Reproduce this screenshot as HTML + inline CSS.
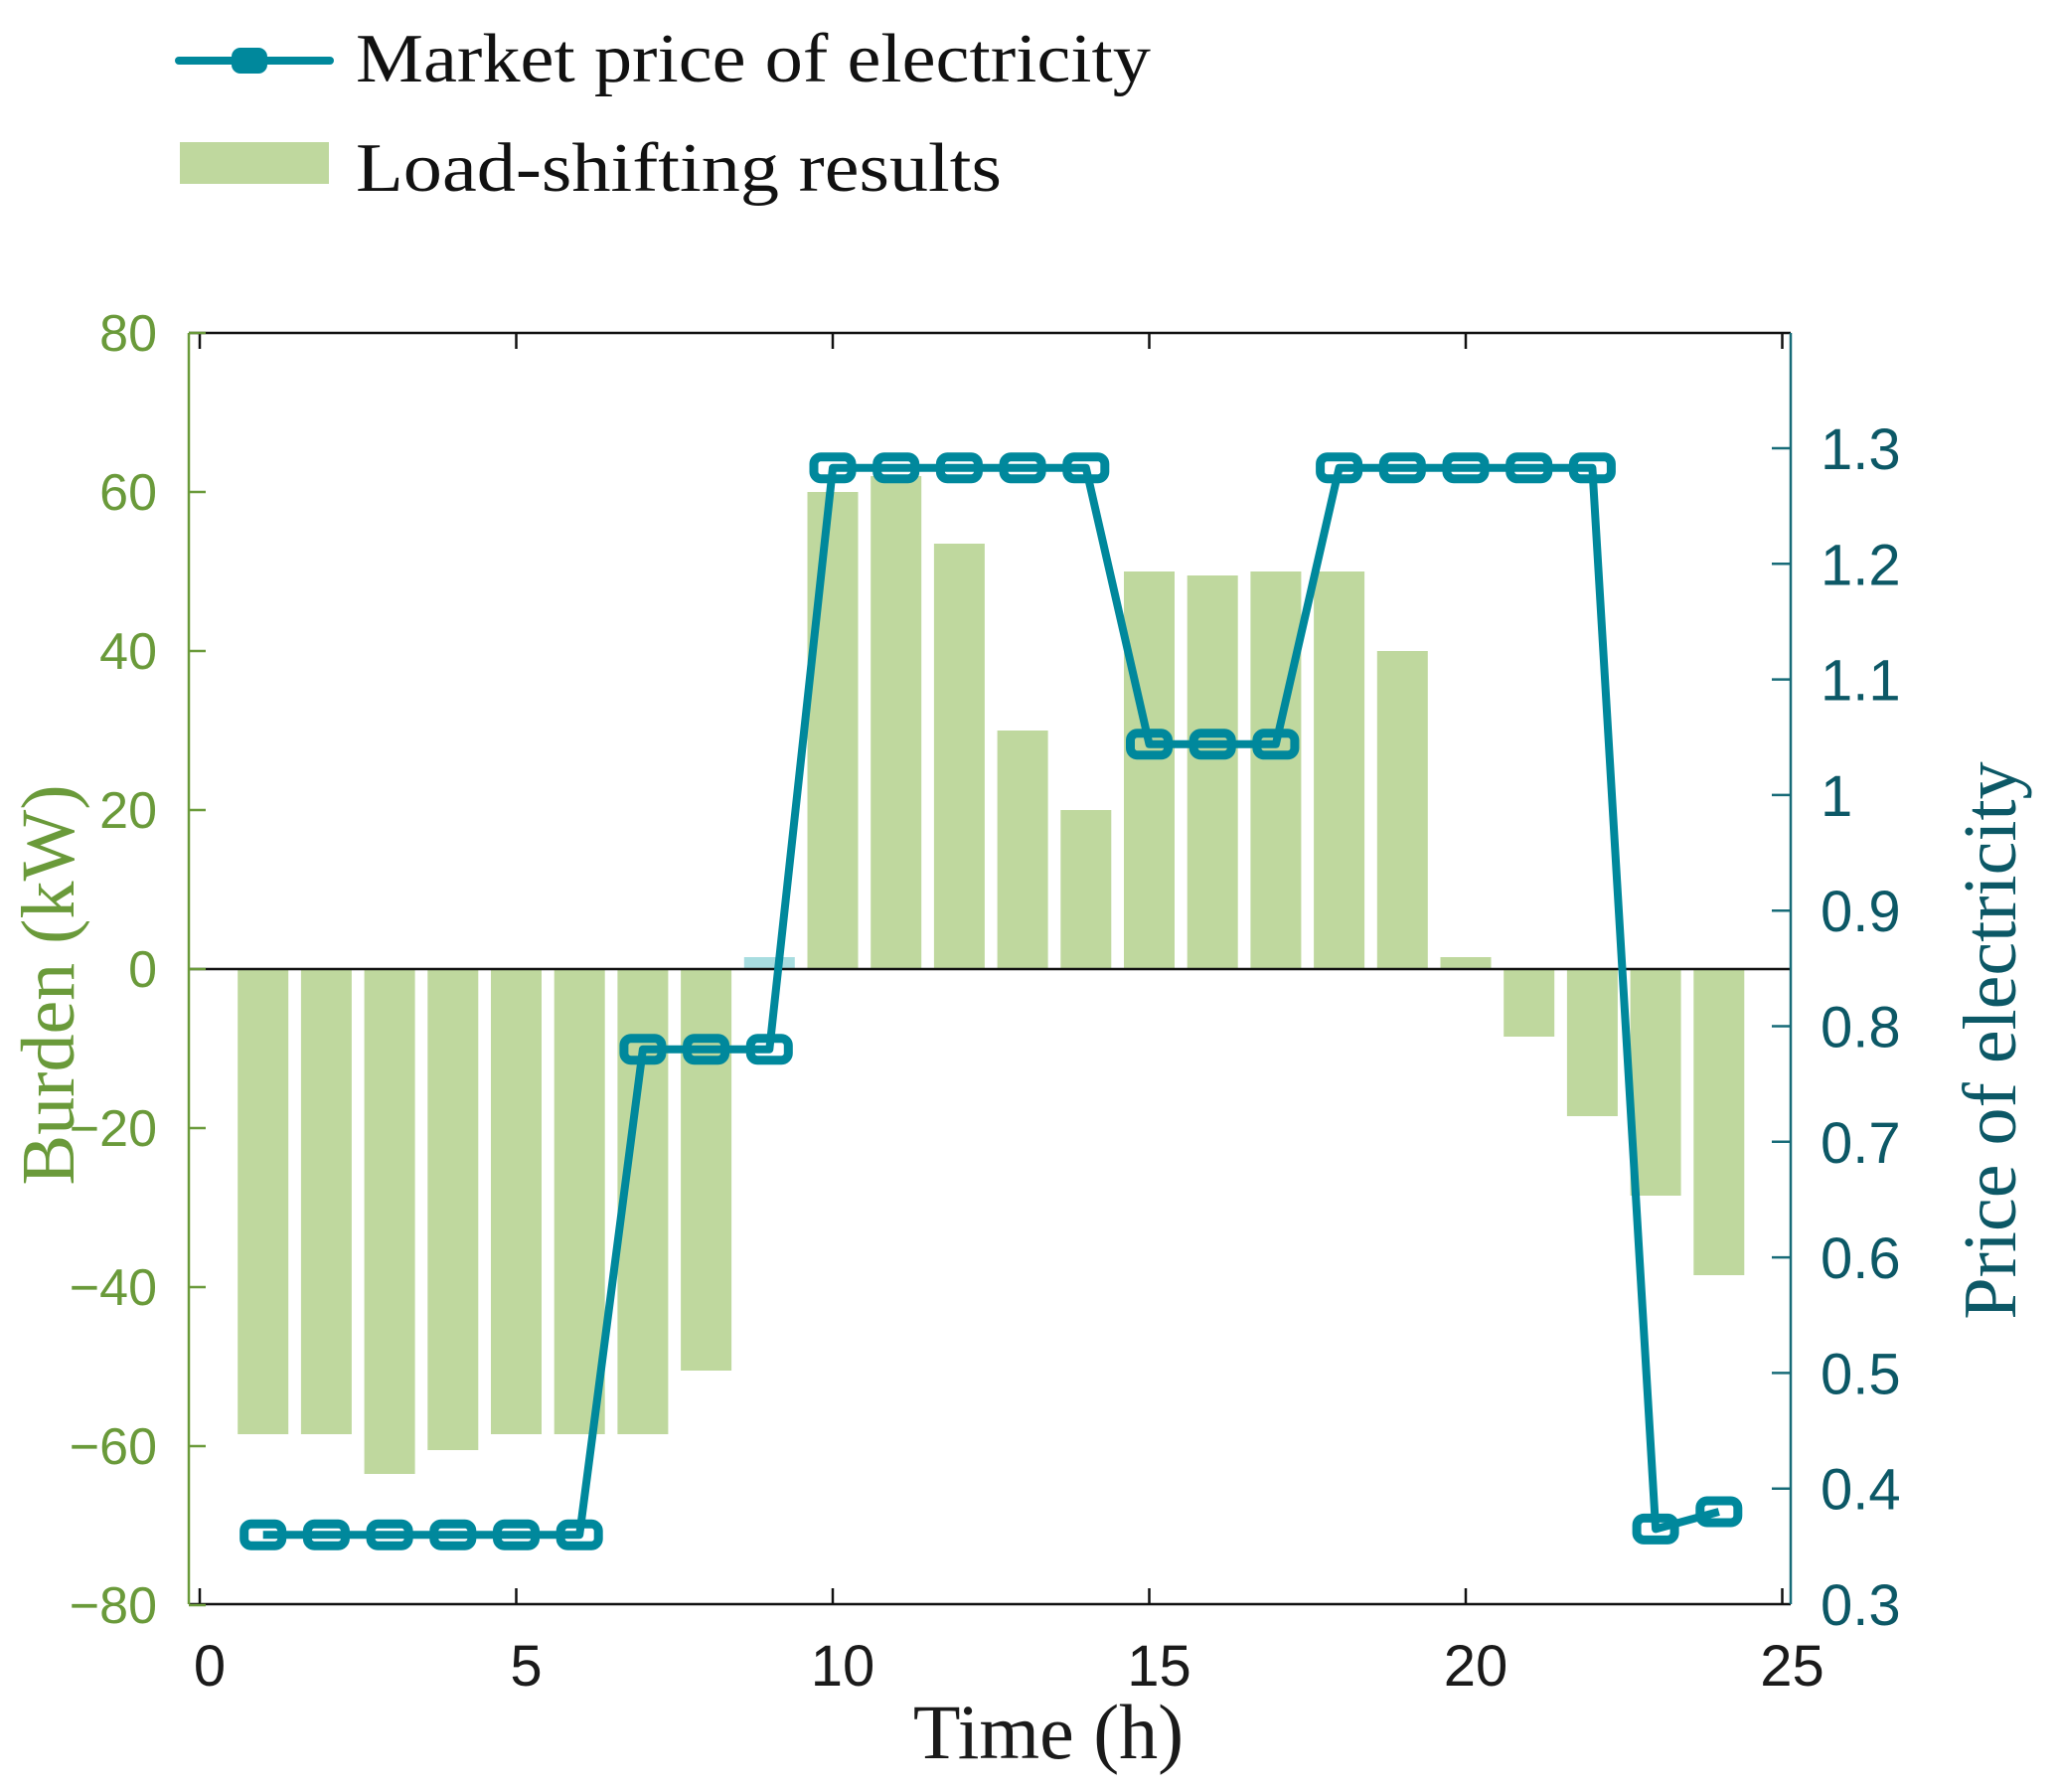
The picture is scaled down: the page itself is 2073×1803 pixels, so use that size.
<!DOCTYPE html>
<html><head><meta charset="utf-8"><style>html,body{margin:0;padding:0;background:#fff}svg{display:block}</style></head>
<body>
<svg width="2073" height="1803" viewBox="0 0 2073 1803" xmlns="http://www.w3.org/2000/svg">
<rect width="2073" height="1803" fill="#fff"/>
<line x1="180" y1="61" x2="332" y2="61" stroke="#00889c" stroke-width="8" stroke-linecap="round"/>
<rect x="233" y="48" width="36" height="26" rx="9" fill="#00889c"/>
<text x="358" y="82" font-family="Liberation Serif, serif" font-size="70" textLength="800" lengthAdjust="spacingAndGlyphs" fill="#111">Market price of electricity</text>
<rect x="181" y="143" width="150" height="42" fill="#bfd89e"/>
<text x="358" y="192" font-family="Liberation Serif, serif" font-size="70" textLength="650" lengthAdjust="spacingAndGlyphs" fill="#111">Load-shifting results</text>
<g id="bars" fill="#bfd89e"></g>
</svg>
<script>
const NS="http://www.w3.org/2000/svg";
const svg=document.querySelector('svg');
function el(t,a,txt,p){const e=document.createElementNS(NS,t);for(const k in a)e.setAttribute(k,a[k]);if(txt!=null)e.textContent=txt;(p||svg).appendChild(e);return e;}
const X=h=>201+h*63.7;
const Y=v=>975-v*8;
const P=p=>1614-(p-0.3)*1163;
const R=1802, B=1614;
const bars=[-58.5,-58.5,-63.5,-60.5,-58.5,-58.5,-58.5,-50.5,1.5,60,62,53.5,30,20,50,49.5,50,50,40,1.5,-8.5,-18.5,-28.5,-38.5];
const bg=document.getElementById('bars');
bars.forEach((v,i)=>{const x=X(i+1)-25.5;const y0=Y(Math.max(v,0)),y1=Y(Math.min(v,0));
 el('rect',{x:x,y:y0,width:51,height:Math.max(y1-y0,1),fill:i==8?'#a8dde0':'#bfd89e'},null,bg);});
el('line',{x1:190,y1:975,x2:R,y2:975,stroke:'#111','stroke-width':2.5});
el('line',{x1:190,y1:335,x2:R,y2:335,stroke:'#111','stroke-width':2.5});
el('line',{x1:190,y1:B,x2:R,y2:B,stroke:'#111','stroke-width':2.5});
el('line',{x1:190,y1:335,x2:190,y2:B,stroke:'#6a9a3a','stroke-width':2.5});
el('line',{x1:R,y1:335,x2:R,y2:B,stroke:'#176b78','stroke-width':2.5});
for(let h=0;h<=25;h+=5){const x=X(h);
 el('line',{x1:x,y1:335,x2:x,y2:351,stroke:'#111','stroke-width':2.5});
 el('line',{x1:x,y1:B,x2:x,y2:B-16,stroke:'#111','stroke-width':2.5});
 el('text',{x:x+10,y:1696,'font-family':'Liberation Sans, sans-serif','font-size':58,'text-anchor':'middle',fill:'#1a1a1a'},String(h));}
for(let v=-80;v<=80;v+=20){const y=Y(v);
 el('line',{x1:190,y1:y,x2:207,y2:y,stroke:'#6a9a3a','stroke-width':2.5});
 el('text',{x:158,y:y+18,'font-family':'Liberation Sans, sans-serif','font-size':52,'text-anchor':'end',fill:'#6a9a3a'},(v<0?'\u2212'+(-v):String(v)));}
for(let k=3;k<=13;k++){const p=k/10;const y=P(p);
 if(k>3)el('line',{x1:R,y1:y,x2:R-19,y2:y,stroke:'#176b78','stroke-width':2.5});
 el('text',{x:1832,y:y+21,'font-family':'Liberation Sans, sans-serif','font-size':58,fill:'#0c5866'},k==10?'1':p.toFixed(1));}
el('text',{x:0,y:0,transform:'translate(74,991) rotate(-90)','font-family':'Liberation Serif, serif','font-size':76,'text-anchor':'middle',fill:'#6a9a3a'},'Burden (kW)');
el('text',{x:0,y:0,transform:'translate(2028,1047) rotate(-90)','font-family':'Liberation Serif, serif','font-size':76,'text-anchor':'middle',fill:'#0c5866'},'Price of electricity');
el('text',{x:1055,y:1769,'font-family':'Liberation Serif, serif','font-size':78,'text-anchor':'middle',fill:'#1a1a1a'},'Time (h)');
const pr=[0.36,0.36,0.36,0.36,0.36,0.36,0.78,0.78,0.78,1.283,1.283,1.283,1.283,1.283,1.044,1.044,1.044,1.283,1.283,1.283,1.283,1.283,0.365,0.38];
el('polyline',{points:pr.map((p,i)=>X(i+1)+','+P(p)).join(' '),fill:'none',stroke:'#00889c','stroke-width':8,'stroke-linejoin':'round'});
pr.forEach((p,i)=>{el('rect',{x:X(i+1)-19,y:P(p)-11,width:38,height:22,rx:7,fill:'none',stroke:'#00889c','stroke-width':9});});
</script>
</body></html>
